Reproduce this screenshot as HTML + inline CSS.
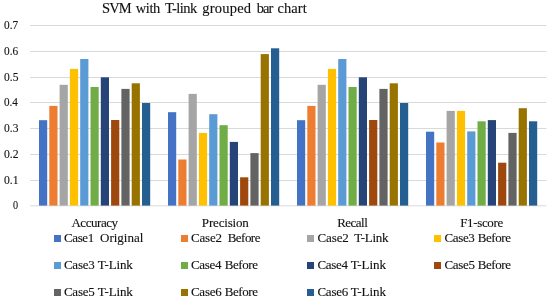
<!DOCTYPE html>
<html><head><meta charset="utf-8"><title>SVM with T-link grouped bar chart</title><style>
html,body{margin:0;padding:0;background:#fff;}
#c{position:relative;width:550px;height:302px;overflow:hidden;background:#fff;font-family:"Liberation Serif",serif;color:#111;-webkit-text-stroke:0.12px #111;}
svg{position:absolute;left:0;top:0;}
.g{position:absolute;left:0;top:0;white-space:pre;font-size:1px;line-height:1px;}
.w{position:absolute;white-space:pre;}
.yl{left:0;width:18.3px;text-align:right;font-size:13.0px;line-height:13.0px;}
.lm{position:absolute;width:7.0px;height:7.0px;}
</style></head><body><div id="c">
<svg width="550" height="302" viewBox="0 0 550 302">
<rect x="30.20" y="205.30" width="516.20" height="1" fill="#D9D9D9"/>
<rect x="30.20" y="180.00" width="516.20" height="1" fill="#D9D9D9"/>
<rect x="30.20" y="154.00" width="516.20" height="1" fill="#D9D9D9"/>
<rect x="30.20" y="128.00" width="516.20" height="1" fill="#D9D9D9"/>
<rect x="30.20" y="102.00" width="516.20" height="1" fill="#D9D9D9"/>
<rect x="30.20" y="77.00" width="516.20" height="1" fill="#D9D9D9"/>
<rect x="30.20" y="51.00" width="516.20" height="1" fill="#D9D9D9"/>
<rect x="30.20" y="25.00" width="516.20" height="1" fill="#D9D9D9"/>
<rect x="39.00" y="120.20" width="8.2" height="85.40" fill="#4472C4"/>
<rect x="49.30" y="105.90" width="8.2" height="99.70" fill="#ED7D31"/>
<rect x="59.60" y="84.80" width="8.2" height="120.80" fill="#A5A5A5"/>
<rect x="69.90" y="68.90" width="8.2" height="136.70" fill="#FFC000"/>
<rect x="80.20" y="59.00" width="8.2" height="146.60" fill="#5B9BD5"/>
<rect x="90.50" y="87.00" width="8.2" height="118.60" fill="#70AD47"/>
<rect x="100.80" y="77.30" width="8.2" height="128.30" fill="#264478"/>
<rect x="111.10" y="120.00" width="8.2" height="85.60" fill="#9E480E"/>
<rect x="121.40" y="88.90" width="8.2" height="116.70" fill="#636363"/>
<rect x="131.70" y="83.30" width="8.2" height="122.30" fill="#997300"/>
<rect x="142.00" y="103.00" width="8.2" height="102.60" fill="#255E91"/>
<rect x="168.00" y="112.20" width="8.2" height="93.40" fill="#4472C4"/>
<rect x="178.30" y="159.50" width="8.2" height="46.10" fill="#ED7D31"/>
<rect x="188.60" y="93.90" width="8.2" height="111.70" fill="#A5A5A5"/>
<rect x="198.90" y="133.00" width="8.2" height="72.60" fill="#FFC000"/>
<rect x="209.20" y="114.20" width="8.2" height="91.40" fill="#5B9BD5"/>
<rect x="219.50" y="125.20" width="8.2" height="80.40" fill="#70AD47"/>
<rect x="229.80" y="141.90" width="8.2" height="63.70" fill="#264478"/>
<rect x="240.10" y="177.30" width="8.2" height="28.30" fill="#9E480E"/>
<rect x="250.40" y="153.10" width="8.2" height="52.50" fill="#636363"/>
<rect x="260.70" y="54.10" width="8.2" height="151.50" fill="#997300"/>
<rect x="271.00" y="48.30" width="8.2" height="157.30" fill="#255E91"/>
<rect x="297.00" y="120.20" width="8.2" height="85.40" fill="#4472C4"/>
<rect x="307.30" y="105.90" width="8.2" height="99.70" fill="#ED7D31"/>
<rect x="317.60" y="84.80" width="8.2" height="120.80" fill="#A5A5A5"/>
<rect x="327.90" y="68.90" width="8.2" height="136.70" fill="#FFC000"/>
<rect x="338.20" y="59.00" width="8.2" height="146.60" fill="#5B9BD5"/>
<rect x="348.50" y="87.00" width="8.2" height="118.60" fill="#70AD47"/>
<rect x="358.80" y="77.30" width="8.2" height="128.30" fill="#264478"/>
<rect x="369.10" y="120.00" width="8.2" height="85.60" fill="#9E480E"/>
<rect x="379.40" y="88.90" width="8.2" height="116.70" fill="#636363"/>
<rect x="389.70" y="83.30" width="8.2" height="122.30" fill="#997300"/>
<rect x="400.00" y="103.00" width="8.2" height="102.60" fill="#255E91"/>
<rect x="426.00" y="131.70" width="8.2" height="73.90" fill="#4472C4"/>
<rect x="436.30" y="142.50" width="8.2" height="63.10" fill="#ED7D31"/>
<rect x="446.60" y="110.90" width="8.2" height="94.70" fill="#A5A5A5"/>
<rect x="456.90" y="110.90" width="8.2" height="94.70" fill="#FFC000"/>
<rect x="467.20" y="131.40" width="8.2" height="74.20" fill="#5B9BD5"/>
<rect x="477.50" y="121.30" width="8.2" height="84.30" fill="#70AD47"/>
<rect x="487.80" y="120.10" width="8.2" height="85.50" fill="#264478"/>
<rect x="498.10" y="162.70" width="8.2" height="42.90" fill="#9E480E"/>
<rect x="508.40" y="132.90" width="8.2" height="72.70" fill="#636363"/>
<rect x="518.70" y="108.20" width="8.2" height="97.40" fill="#997300"/>
<rect x="529.00" y="121.30" width="8.2" height="84.30" fill="#255E91"/>
</svg>
<div class="g"><span class="w" style="left:102.00px;top:1.26px;font-size:14.5px;line-height:14.5px;letter-spacing:-0.850px">SVM</span> <span class="w" style="left:135.70px;top:1.26px;font-size:14.5px;line-height:14.5px;letter-spacing:-0.383px">with</span> <span class="w" style="left:164.95px;top:1.26px;font-size:14.5px;line-height:14.5px;letter-spacing:-0.510px">T-link</span> <span class="w" style="left:202.30px;top:1.26px;font-size:14.5px;line-height:14.5px;letter-spacing:0.217px">grouped</span> <span class="w" style="left:256.80px;top:1.26px;font-size:14.5px;line-height:14.5px;letter-spacing:-1.050px">bar</span> <span class="w" style="left:277.60px;top:1.26px;font-size:14.5px;line-height:14.5px;letter-spacing:0.025px">chart</span></div>
<div class="g"><span class="w" style="left:71.40px;top:215.71px;font-size:13.0px;line-height:13.0px;letter-spacing:-0.450px">Accuracy</span></div>
<div class="g"><span class="w" style="left:201.85px;top:215.71px;font-size:13.0px;line-height:13.0px;letter-spacing:-0.175px">Precision</span></div>
<div class="g"><span class="w" style="left:337.15px;top:215.71px;font-size:13.0px;line-height:13.0px;letter-spacing:-0.510px">Recall</span></div>
<div class="g"><span class="w" style="left:460.25px;top:215.71px;font-size:13.0px;line-height:13.0px;letter-spacing:-0.364px">F1-score</span></div>
<div class="g"><span class="w" style="left:64.00px;top:231.21px;font-size:13.0px;line-height:13.0px;letter-spacing:-0.400px">Case1</span>  <span class="w" style="left:100.10px;top:231.21px;font-size:13.0px;line-height:13.0px;letter-spacing:-0.021px">Original</span></div>
<div class="g"><span class="w" style="left:190.90px;top:231.21px;font-size:13.0px;line-height:13.0px;letter-spacing:-0.150px">Case2</span>  <span class="w" style="left:227.65px;top:231.21px;font-size:13.0px;line-height:13.0px;letter-spacing:-0.510px">Before</span></div>
<div class="g"><span class="w" style="left:317.40px;top:231.21px;font-size:13.0px;line-height:13.0px;letter-spacing:-0.075px">Case2</span>  <span class="w" style="left:354.25px;top:231.21px;font-size:13.0px;line-height:13.0px;letter-spacing:-0.280px">T-Link</span></div>
<div class="g"><span class="w" style="left:444.40px;top:231.21px;font-size:13.0px;line-height:13.0px;letter-spacing:-0.337px">Case3</span> <span class="w" style="left:477.65px;top:231.21px;font-size:13.0px;line-height:13.0px;letter-spacing:-0.410px">Before</span></div>
<div class="g"><span class="w" style="left:63.90px;top:258.11px;font-size:13.0px;line-height:13.0px;letter-spacing:-0.213px">Case3</span> <span class="w" style="left:97.85px;top:258.11px;font-size:13.0px;line-height:13.0px;letter-spacing:-0.140px">T-Link</span></div>
<div class="g"><span class="w" style="left:190.90px;top:258.11px;font-size:13.0px;line-height:13.0px;letter-spacing:-0.263px">Case4</span> <span class="w" style="left:224.65px;top:258.11px;font-size:13.0px;line-height:13.0px;letter-spacing:-0.410px">Before</span></div>
<div class="g"><span class="w" style="left:317.40px;top:258.11px;font-size:13.0px;line-height:13.0px;letter-spacing:-0.287px">Case4</span> <span class="w" style="left:350.65px;top:258.11px;font-size:13.0px;line-height:13.0px;letter-spacing:-0.060px">T-Link</span></div>
<div class="g"><span class="w" style="left:444.40px;top:258.11px;font-size:13.0px;line-height:13.0px;letter-spacing:-0.262px">Case5</span> <span class="w" style="left:477.65px;top:258.11px;font-size:13.0px;line-height:13.0px;letter-spacing:-0.410px">Before</span></div>
<div class="g"><span class="w" style="left:63.90px;top:285.21px;font-size:13.0px;line-height:13.0px;letter-spacing:-0.213px">Case5</span> <span class="w" style="left:97.85px;top:285.21px;font-size:13.0px;line-height:13.0px;letter-spacing:-0.140px">T-Link</span></div>
<div class="g"><span class="w" style="left:190.90px;top:285.21px;font-size:13.0px;line-height:13.0px;letter-spacing:-0.200px">Case6</span> <span class="w" style="left:224.65px;top:285.21px;font-size:13.0px;line-height:13.0px;letter-spacing:-0.410px">Before</span></div>
<div class="g"><span class="w" style="left:317.40px;top:285.21px;font-size:13.0px;line-height:13.0px;letter-spacing:-0.225px">Case6</span> <span class="w" style="left:350.65px;top:285.21px;font-size:13.0px;line-height:13.0px;letter-spacing:-0.060px">T-Link</span></div>
<div class="g"><span class="w" style="left:12.91px;top:198.31px;font-size:13.0px;line-height:13.0px;transform:scaleX(0.782);transform-origin:0 0">0</span></div>
<div class="g"><span class="w" style="left:4.30px;top:172.57px;font-size:13.0px;line-height:13.0px;transform:scaleX(0.900);transform-origin:0 0">0.1</span></div>
<div class="g"><span class="w" style="left:4.30px;top:146.83px;font-size:13.0px;line-height:13.0px;transform:scaleX(0.900);transform-origin:0 0">0.2</span></div>
<div class="g"><span class="w" style="left:4.31px;top:121.09px;font-size:13.0px;line-height:13.0px;transform:scaleX(0.885);transform-origin:0 0">0.3</span></div>
<div class="g"><span class="w" style="left:4.32px;top:95.35px;font-size:13.0px;line-height:13.0px;transform:scaleX(0.857);transform-origin:0 0">0.4</span></div>
<div class="g"><span class="w" style="left:4.31px;top:69.61px;font-size:13.0px;line-height:13.0px;transform:scaleX(0.885);transform-origin:0 0">0.5</span></div>
<div class="g"><span class="w" style="left:4.31px;top:43.87px;font-size:13.0px;line-height:13.0px;transform:scaleX(0.871);transform-origin:0 0">0.6</span></div>
<div class="g"><span class="w" style="left:4.31px;top:18.13px;font-size:13.0px;line-height:13.0px;transform:scaleX(0.871);transform-origin:0 0">0.7</span></div>
<div class="lm" style="left:54.0px;top:234.7px;background:#4472C4"></div><div class="lm" style="left:180.6px;top:234.7px;background:#ED7D31"></div><div class="lm" style="left:307.2px;top:234.7px;background:#A5A5A5"></div><div class="lm" style="left:433.9px;top:234.7px;background:#FFC000"></div><div class="lm" style="left:54.0px;top:261.6px;background:#5B9BD5"></div><div class="lm" style="left:180.6px;top:261.6px;background:#70AD47"></div><div class="lm" style="left:307.2px;top:261.6px;background:#264478"></div><div class="lm" style="left:433.9px;top:261.6px;background:#9E480E"></div><div class="lm" style="left:54.0px;top:288.9px;background:#636363"></div><div class="lm" style="left:180.6px;top:288.9px;background:#997300"></div><div class="lm" style="left:307.2px;top:288.9px;background:#255E91"></div>
</div></body></html>
